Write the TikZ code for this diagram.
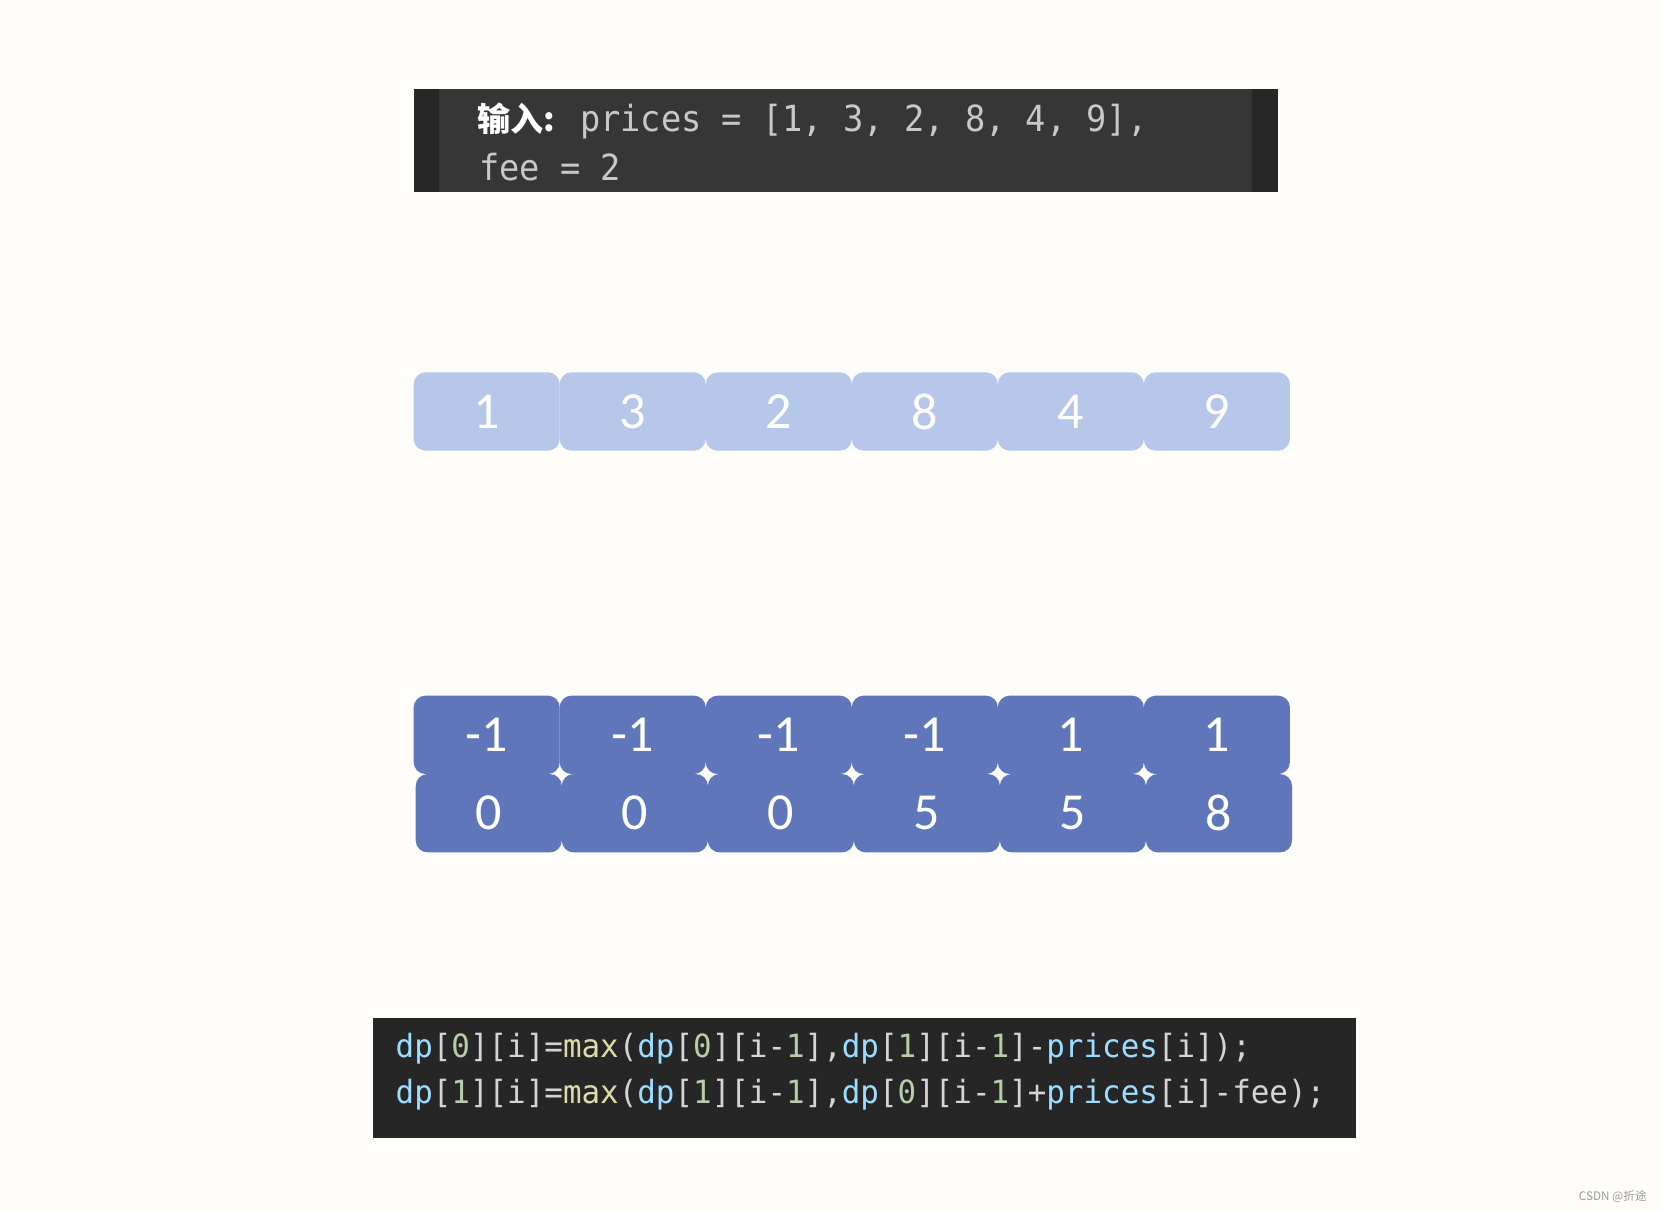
\documentclass[tikz,border=0pt]{standalone}
\usepackage{fontspec}
\newfontfamily\cjk{Noto Sans CJK SC}
\newfontfamily\topmono[FakeStretch=0.935]{DejaVu Sans Mono}
\newfontfamily\codemono[FakeStretch=0.965]{DejaVu Sans Mono}
\newfontfamily\cellfont{Carlito}
\definecolor{bg}{HTML}{FEFDF9}
\definecolor{topfill}{HTML}{363636}
\definecolor{topstrip}{HTML}{272727}
\definecolor{topgray}{HTML}{C8C8C8}
\definecolor{lightcell}{HTML}{B7C7E9}
\definecolor{darkcell}{HTML}{5F76BA}
\definecolor{codebg}{HTML}{262626}
\definecolor{vsvar}{HTML}{9CDCFE}
\definecolor{vsnum}{HTML}{B5CEA8}
\definecolor{vsfn}{HTML}{DCDCAA}
\definecolor{vstxt}{HTML}{D4D4D4}
\definecolor{wmark}{HTML}{9A9A9A}
\newcommand\cV[1]{\textcolor{vsvar}{#1}}
\newcommand\cN[1]{\textcolor{vsnum}{#1}}
\newcommand\cF[1]{\textcolor{vsfn}{#1}}
\begin{document}
\begin{tikzpicture}[x=0.75pt,y=-0.75pt,
  cell/.style={rounded corners=9pt, minimum width=109.6pt, minimum height=58.8pt,
    inner sep=0pt, text=white, font=\cellfont\fontsize{39}{39}\selectfont, anchor=north west},
  lcell/.style={cell, fill=lightcell},
  dcell/.style={cell, fill=darkcell},
  toptext/.style={anchor=base west, inner sep=0pt, text=topgray, font=\topmono\fontsize{27}{27}\selectfont},
  codetext/.style={anchor=base west, inner sep=0pt, text=vstxt, font=\codemono\fontsize{24}{24}\selectfont}]
\useasboundingbox (0,0) rectangle (1662,1212);
\fill[bg] (0,0) rectangle (1662,1212);
\begin{scope}[scale=0.9948]
% top input box
\fill[topfill] (416.6,89.5) rectangle (1284.9,192.8);
\fill[topstrip] (416.6,89.5) rectangle (441,192.8);
\fill[topstrip] (1259,89.5) rectangle (1284.9,192.8);
\node[anchor=base west, inner sep=0pt, text=white, font=\cjk\bfseries\fontsize{24.8}{24.8}\selectfont] (lab) at (479.4,132) {输入:};
\node[toptext] (prices) at (582.8,132) {prices = [1, 3, 2, 8, 4, 9],};
\node[toptext] (fee) at (481.6,181) {fee = 2};
% price cells
\foreach \v [count=\i from 0] in {1,3,2,8,4,9}
  \node[lcell] (p\i) at (415.5+146.8*\i,374) {\v};
% dp row 1
\foreach \v [count=\i from 0] in {-1,-1,-1,-1,1,1}
  \node[dcell] (a\i) at (415.5+146.8*\i,699) {\v};
% dp row 0
\foreach \v [count=\i from 0] in {0,0,0,5,5,8}
  \node[dcell] (b\i) at (417.6+146.8*\i,777.8) {\v};
% code box
\fill[codebg] (375,1023.8) rectangle (1362.6,1144.2);
\node[codetext] (c1) at (397.5,1063) {\cV{dp}[\cN{0}][i]=\cF{max}(\cV{dp}[\cN{0}][i-\cN{1}],\cV{dp}[\cN{1}][i-\cN{1}]-\cV{prices}[i]);};
\node[codetext] (c2) at (397.5,1109) {\cV{dp}[\cN{1}][i]=\cF{max}(\cV{dp}[\cN{1}][i-\cN{1}],\cV{dp}[\cN{0}][i-\cN{1}]+\cV{prices}[i]-fee);};
\end{scope}
% watermark
\node[anchor=east, inner sep=0pt, text=wmark, font=\cjk\fontsize{8.8}{8.8}\selectfont] (wm) at (1647,1197) {CSDN @折途};
\end{tikzpicture}
\end{document}
